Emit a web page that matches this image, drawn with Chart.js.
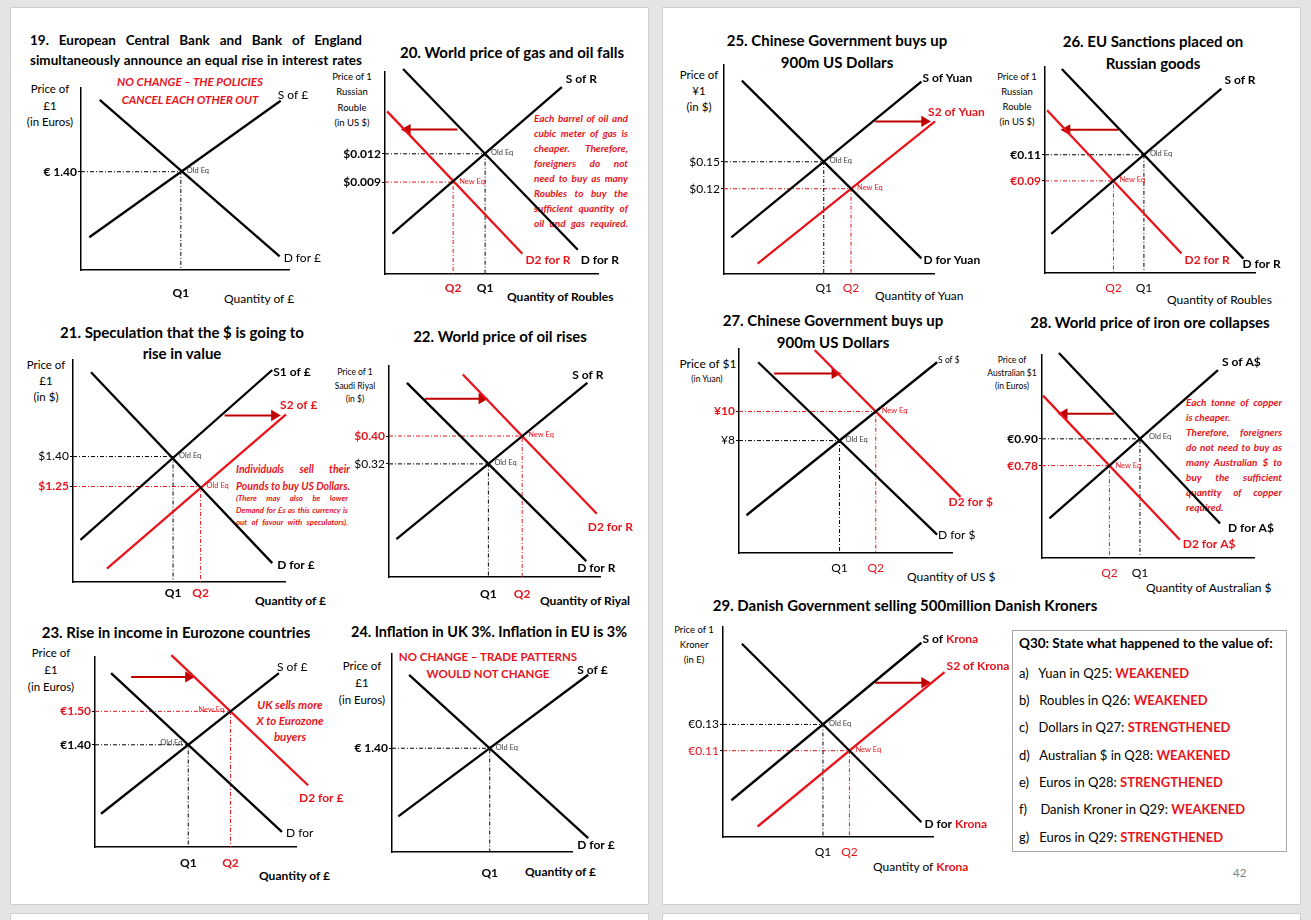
<!DOCTYPE html>
<html>
<head>
<meta charset="utf-8">
<script src="https://cdn.jsdelivr.net/npm/chart.js@4.4.1/dist/chart.umd.min.js"></script>
<style>
body{margin:0;width:1311px;height:920px;background:#e4e4e4;position:relative;overflow:hidden;font-family:Lato,"Open Sans",sans-serif;color:#000}
.pg{position:absolute;background:#fff;border:1px solid #d0d0d0;box-sizing:border-box}
.t{position:absolute;white-space:nowrap}
.c{text-align:center}
.b{font-weight:bold}
.red{color:#e8141c}
.it{font-style:italic}
.j{text-align:justify;text-align-last:justify}
.ttl{font-weight:bold;font-size:15px;line-height:22px;text-align:center}
.ax{font-size:12px;line-height:14px}
canvas{position:absolute}
</style>
</head>
<body>
<div class="pg" style="left:10px;top:7px;width:639px;height:898px"></div>
<div class="pg" style="left:662px;top:7px;width:639px;height:898px"></div>
<div class="pg" style="left:10px;top:913px;width:639px;height:20px"></div>
<div class="pg" style="left:662px;top:913px;width:639px;height:20px"></div>

<!-- 19 -->
<div class="t b j" style="left:30px;top:30px;width:332px;font-size:13.5px;line-height:20px">19. European Central Bank and Bank of England<br>simultaneously announce an equal rise in interest rates</div>
<div class="t c" style="left:15px;top:81px;width:70px;font-size:11.5px;line-height:16.5px">Price of<br>£1<br>(in Euros)</div>
<div class="t c b it red" style="left:100px;top:73px;width:180px;font-size:11.5px;line-height:18px">NO CHANGE – THE POLICIES<br>CANCEL EACH OTHER OUT</div>
<div class="t ax" style="left:224px;top:292px">Quantity of £</div>

<!-- 20 -->
<div class="t ttl" style="left:392px;top:41px;width:240px">20. World price of gas and oil falls</div>
<div class="t c" style="left:320px;top:69px;width:64px;font-size:9.5px;line-height:15.3px">Price of 1<br>Russian<br>Rouble<br>(in US $)</div>
<div class="t b it red j" style="left:534px;top:111px;width:94px;font-size:10px;line-height:15px">Each barrel of oil and<br>cubic meter of gas is<br>cheaper.&nbsp; Therefore,<br>foreigners do not<br>need to buy as many<br>Roubles to buy the<br>sufficient quantity of<br>oil and gas required.</div>
<div class="t b ax" style="left:507px;top:290px">Quantity of Roubles</div>

<!-- 21 -->
<div class="t ttl" style="left:42px;top:322px;width:280px;line-height:21px">21. Speculation that the $ is going to<br>rise in value</div>
<div class="t c" style="left:11px;top:357px;width:70px;font-size:11.5px;line-height:16px">Price of<br>£1<br>(in $)</div>
<div class="t b it red j" style="left:236px;top:461px;width:114px;font-size:10.5px;line-height:17px">Individuals sell their<br>Pounds to buy US Dollars.</div>
<div class="t b it red j" style="left:236px;top:492px;width:112px;font-size:7.8px;line-height:12px">(There may also be lower<br>Demand for £s as this currency is<br>out of favour with speculators).</div>
<div class="t b ax" style="left:255px;top:594px">Quantity of £</div>

<!-- 22 -->
<div class="t ttl" style="left:400px;top:325px;width:200px">22. World price of oil rises</div>
<div class="t c" style="left:320px;top:366px;width:70px;font-size:8.5px;line-height:13.5px">Price of 1<br>Saudi Riyal<br>(in $)</div>
<div class="t b ax" style="left:540px;top:594px">Quantity of Riyal</div>

<!-- 23 -->
<div class="t ttl" style="left:26px;top:621px;width:300px">23. Rise in income in Eurozone countries</div>
<div class="t c" style="left:16px;top:644px;width:70px;font-size:11.5px;line-height:17px">Price of<br>£1<br>(in Euros)</div>
<div class="t c b it red" style="left:240px;top:697px;width:100px;font-size:11.5px;line-height:16px">UK sells more<br>X to Eurozone<br>buyers</div>
<div class="t b ax" style="left:259px;top:869px">Quantity of £</div>

<!-- 24 -->
<div class="t ttl" style="left:339px;top:621px;width:300px;font-size:14.4px">24. Inflation in UK 3%. Inflation in EU is 3%</div>
<div class="t c b red" style="left:393px;top:648px;width:190px;font-size:11.5px;line-height:17px">NO CHANGE – TRADE PATTERNS<br>WOULD NOT CHANGE</div>
<div class="t c" style="left:327px;top:657px;width:70px;font-size:11.5px;line-height:17px">Price of<br>£1<br>(in Euros)</div>
<div class="t b ax" style="left:525px;top:865px">Quantity of £</div>

<!-- 25 -->
<div class="t ttl" style="left:717px;top:29px;width:240px">25. Chinese Government buys up<br>900m US Dollars</div>
<div class="t c" style="left:669px;top:67px;width:60px;font-size:11.5px;line-height:16px">Price of<br>¥1<br>(in $)</div>
<div class="t ax" style="left:875px;top:289px">Quantity of Yuan</div>

<!-- 26 -->
<div class="t ttl" style="left:1043px;top:30px;width:220px">26. EU Sanctions placed on<br>Russian goods</div>
<div class="t c" style="left:987px;top:69px;width:60px;font-size:9.5px;line-height:15px">Price of 1<br>Russian<br>Rouble<br>(in US $)</div>
<div class="t ax" style="left:1167px;top:293px">Quantity of Roubles</div>

<!-- 27 -->
<div class="t ttl" style="left:713px;top:309px;width:240px">27. Chinese Government buys up<br>900m US Dollars</div>
<div class="t c" style="left:673px;top:357px;width:70px;font-size:12px;line-height:14px">Price of $1</div>
<div class="t c" style="left:672px;top:374px;width:70px;font-size:8.5px;line-height:10px">(in Yuan)</div>
<div class="t ax" style="left:907px;top:570px">Quantity of US $</div>

<!-- 28 -->
<div class="t ttl" style="left:1010px;top:311px;width:280px">28. World price of iron ore collapses</div>
<div class="t c" style="left:972px;top:354px;width:80px;font-size:8.5px;line-height:13px">Price of<br>Australian $1<br>(in Euros)</div>
<div class="t b it red" style="left:1186px;top:395px;width:96px;font-size:10px;line-height:15px">
<div class="j">Each tonne of copper</div><div>is cheaper.</div><div class="j">Therefore, foreigners</div><div class="j">do not need to buy as</div><div class="j">many Australian $ to</div><div class="j">buy the sufficient</div><div class="j">quantity of copper</div><div>required.</div></div>
<div class="t ax" style="left:1146px;top:581px">Quantity of Australian $</div>

<!-- 29 -->
<div class="t ttl" style="left:700px;top:594px;width:410px">29. Danish Government selling 500million Danish Kroners</div>
<div class="t c" style="left:664px;top:622px;width:60px;font-size:9.5px;line-height:15px">Price of 1<br>Kroner<br>(in E)</div>
<div class="t ax" style="left:873px;top:860px">Quantity of <span class="b red">Krona</span></div>

<!-- Q30 -->
<div style="position:absolute;left:1012px;top:630px;width:275px;height:222px;border:1px solid #a6a6a6;box-sizing:border-box"></div>
<div class="t b" style="left:1019px;top:635px;font-size:13.5px;line-height:16px">Q30: State what happened to the value of:</div>
<div class="t" style="left:1019px;top:665px;font-size:13px;line-height:16px">a)&nbsp;&nbsp; Yuan in Q25: <span class="b red">WEAKENED</span></div>
<div class="t" style="left:1019px;top:692px;font-size:13px;line-height:16px">b)&nbsp;&nbsp; Roubles in Q26: <span class="b red">WEAKENED</span></div>
<div class="t" style="left:1019px;top:719px;font-size:13px;line-height:16px">c)&nbsp;&nbsp; Dollars in Q27: <span class="b red">STRENGTHENED</span></div>
<div class="t" style="left:1019px;top:747px;font-size:13px;line-height:16px">d)&nbsp;&nbsp; Australian $ in Q28: <span class="b red">WEAKENED</span></div>
<div class="t" style="left:1019px;top:774px;font-size:13px;line-height:16px">e)&nbsp;&nbsp; Euros in Q28: <span class="b red">STRENGTHENED</span></div>
<div class="t" style="left:1019px;top:801px;font-size:13px;line-height:16px">f)&nbsp;&nbsp;&nbsp; Danish Kroner in Q29: <span class="b red">WEAKENED</span></div>
<div class="t" style="left:1019px;top:829px;font-size:13px;line-height:16px">g)&nbsp;&nbsp; Euros in Q29: <span class="b red">STRENGTHENED</span></div>
<div class="t" style="left:1233px;top:866px;font-size:11.5px;line-height:14px;color:#7f7f7f">42</div>

<script>
// curves are [start, end] in plot units (0-10 on both axes), eq points are [quantity, price]
const q19Supply = [[0.4, 1.8], [9.6, 9.3]];
const q19Demand = [[0.9, 9.35], [9.55, 0.75]];
const q19Eq = [[4.8, 5.4]];
const q19Prices = ['€ 1.40'];
const q19Qty = ['Q1'];

const q20Supply = [[0.35, 2.0], [8.3, 9.25]];
const q20Demand = [[0.85, 10.15], [9.05, 1.2]];
const q20Demand2 = [[0.1, 8.05], [6.45, 1.0]];
const q20Eq = [[4.7, 5.95], [3.2, 4.55]];
const q20Prices = ['$0.012', '$0.009'];
const q20Qty = ['Q1', 'Q2'];
const q20Shift = [3.4, 1.05, 7.15];

const q21Supply = [[0.35, 1.9], [9.4, 9.55]];
const q21Demand = [[0.85, 9.45], [9.4, 0.85]];
const q21Supply2 = [[1.6, 0.6], [10.05, 7.55]];
const q21Eq = [[4.72, 5.65], [6.02, 4.3]];
const q21Prices = ['$1.40', '$1.25'];
const q21Qty = ['Q1', 'Q2'];
const q21Shift = [7.15, 9.5, 7.5];

const q22Supply = [[0.35, 1.8], [9.4, 9.2]];
const q22Demand = [[0.85, 9.2], [9.35, 0.75]];
const q22Demand2 = [[3.5, 9.6], [9.85, 3.0]];
const q22Eq = [[4.71, 5.36], [6.31, 6.68]];
const q22Prices = ['$0.32', '$0.40'];
const q22Qty = ['Q1', 'Q2'];
const q22Shift = [1.7, 4.4, 8.45];

const q23Supply = [[0.3, 1.75], [9.15, 9.15]];
const q23Demand = [[0.8, 9.15], [9.3, 0.8]];
const q23Demand2 = [[3.8, 10.1], [10.6, 3.25]];
const q23Eq = [[4.64, 5.38], [6.74, 7.14]];
const q23Prices = ['€1.40', '€1.50'];
const q23Qty = ['Q1', 'Q2'];
const q23Shift = [1.8, 4.65, 8.95];

const q24Supply = [[0.35, 1.8], [10.9, 8.95]];
const q24Demand = [[0.95, 8.95], [10.9, 0.7]];
const q24Eq = [[5.43, 5.24]];
const q24Prices = ['€ 1.40'];
const q24Qty = ['Q1'];

const q25Supply = [[0.35, 1.75], [9.4, 9.2]];
const q25Demand = [[0.85, 9.25], [9.4, 0.75]];
const q25Supply2 = [[1.6, 0.5], [10.05, 7.3]];
const q25Eq = [[4.75, 5.37], [6.05, 4.08]];
const q25Prices = ['$0.15', '$0.12'];
const q25Qty = ['Q1', 'Q2'];
const q25Shift = [7.2, 9.55, 7.3];

const q26Supply = [[0.3, 1.9], [8.4, 8.95]];
const q26Demand = [[0.8, 9.9], [9.45, 0.7]];
const q26Demand2 = [[0.1, 7.9], [6.5, 0.95]];
const q26Eq = [[4.71, 5.74], [3.26, 4.47]];
const q26Prices = ['€0.11', '€0.09'];
const q26Qty = ['Q1', 'Q2'];
const q26Shift = [3.5, 1.05, 6.95];

const q27Supply = [[0.35, 1.85], [9.3, 9.35]];
const q27Demand = [[0.9, 9.35], [9.3, 0.9]];
const q27Demand2 = [[3.55, 9.95], [10.4, 2.75]];
const q27Eq = [[4.72, 5.51], [6.42, 6.94]];
const q27Prices = ['¥8', '¥10'];
const q27Qty = ['Q1', 'Q2'];
const q27Shift = [1.65, 4.5, 8.8];

const q28Supply = [[0.35, 1.95], [8.3, 9.25]];
const q28Demand = [[0.8, 10.1], [8.4, 1.7]];
const q28Demand2 = [[0.05, 8.0], [6.5, 0.9]];
const q28Eq = [[4.62, 5.87], [3.18, 4.55]];
const q28Prices = ['€0.90', '€0.78'];
const q28Qty = ['Q1', 'Q2'];
const q28Shift = [3.4, 1.05, 7.1];

const q29Supply = [[0.4, 1.75], [9.45, 9.25]];
const q29Demand = [[0.9, 9.2], [9.45, 0.7]];
const q29Supply2 = [[1.65, 0.5], [10.55, 7.85]];
const q29Eq = [[4.76, 5.36], [6.02, 4.11]];
const q29Prices = ['€0.13', '€0.11'];
const q29Qty = ['Q1', 'Q2'];
const q29Shift = [7.25, 9.6, 7.35];

const FONT = 'Lato, "Open Sans", sans-serif';
const K = '#000000', R = '#e8141c', AR = '#c00000';
const col = c => c === 'r' ? R : (c === 'g' ? '#404040' : K);

// box = [axis x, axis top, axis right, axis y] in page pixels
const diagrams = [
  { box: [81, 88, 289, 270], xPad: 16, qBold: true, eq: q19Eq, prices: q19Prices, pStyle: ['kb'], qty: q19Qty, names: ['Old Eq'],
    lines: [[q19Supply, 'k', 'S of £', -3, -6, 'n'], [q19Demand, 'k', 'D for £', 4, 2, 'n']] },
  { box: [385, 72, 598, 274], xPad: 7, qBold: true, eq: q20Eq, prices: q20Prices, pStyle: ['kb', 'kb'], qty: q20Qty, names: ['Old Eq', 'New Eq'], shift: q20Shift,
    lines: [[q20Supply, 'k', 'S of R', 4, -8, 'b'], [q20Demand, 'k', 'D for R', 3, 10, 'b'], [q20Demand2, 'r', 'D2 for R', 3, 6, 'b']] },
  { box: [73, 360, 285, 582], xPad: 4, qBold: true, eq: q21Eq, prices: q21Prices, pStyle: ['kn', 'rb'], qty: q21Qty, names: ['Old Eq', 'Old Eq'], shift: q21Shift,
    lines: [[q21Supply, 'k', 'S1 of £', 1, 2, 'b'], [q21Demand, 'k', 'D for £', 5, 2, 'b'], [q21Supply2, 'r', 'S2 of £', -6, -9, 'b']] },
  { box: [389, 366, 600, 577], xPad: 10, qBold: true, eq: q22Eq, prices: q22Prices, pStyle: ['kn', 'rb'], qty: q22Qty, names: ['Old Eq', 'New Eq'], shift: q22Shift,
    lines: [[q22Supply, 'k', 'S of R', -15, -8, 'b'], [q22Demand, 'k', 'D for R', -9, 7, 'b'], [q22Demand2, 'r', 'D2 for R', -9, 13, 'b']] },
  { box: [95, 657, 296, 847], xPad: 9, qBold: true, eq: q23Eq, prices: q23Prices, pStyle: ['kb', 'rb'], qty: q23Qty, names: ['Old Eq', 'New Eq'], shift: q23Shift,
    eqOff: [[-28, -2], [-32, -2]],
    lines: [[q23Supply, 'k', 'S of £', -2, -6, 'n'], [q23Demand, 'k', 'D for', 4, 1, 'n'], [q23Demand2, 'r', 'D2 for £', -9, 13, 'b']] },
  { box: [392, 654, 572, 852], xPad: 14, qBold: true, eq: q24Eq, prices: q24Prices, pStyle: ['kb'], qty: q24Qty, names: ['Old Eq'],
    lines: [[q24Supply, 'k', 'S of £', -11, -5, 'b'], [q24Demand, 'k', 'D for £', -11, 7, 'b']] },
  { box: [724, 65, 934, 274], xPad: 7, qBold: false, eq: q25Eq, prices: q25Prices, pStyle: ['kn', 'kn'], qty: q25Qty, names: ['Old Eq', 'New Eq'], shift: q25Shift,
    lines: [[q25Supply, 'k', 'S of Yuan', 1, -4, 'b'], [q25Demand, 'k', 'D for Yuan', 2, 2, 'b'], [q25Supply2, 'r', 'S2 of Yuan', -7, -9, 'b']] },
  { box: [1045, 67, 1255, 273], xPad: 8, qBold: false, eq: q26Eq, prices: q26Prices, pStyle: ['kb', 'rb'], qty: q26Qty, names: ['Old Eq', 'New Eq'], shift: q26Shift,
    lines: [[q26Supply, 'k', 'S of R', 3, -9, 'b'], [q26Demand, 'k', 'D for R', -1, 6, 'b'], [q26Demand2, 'r', 'D2 for R', 3, 7, 'b']] },
  { box: [739, 349, 952, 553], xPad: 8, qBold: false, eq: q27Eq, prices: q27Prices, pStyle: ['kn', 'rb'], qty: q27Qty, names: ['Old Eq', 'New Eq'], shift: q27Shift,
    lines: [[q27Supply, 'k', 'S of $', 1, -2, 'n', 8.5], [q27Demand, 'k', 'D for $', 1, 0, 'n'], [q27Demand2, 'r', 'D2 for $', -12, 5, 'b']] },
  { box: [1042, 355, 1254, 558], xPad: 8, qBold: false, eq: q28Eq, prices: q28Prices, pStyle: ['kb', 'rb'], qty: q28Qty, names: ['Old Eq', 'New Eq'], shift: q28Shift,
    eqOff: [[9, -2], [6, 0]],
    lines: [[q28Supply, 'k', 'S of A$', 4, -8, 'b'], [q28Demand, 'k', 'D for A$', 8, 5, 'b'], [q28Demand2, 'r', 'D2 for A$', 3, 4, 'b']] },
  { box: [723, 627, 933, 837], xPad: 8, qBold: false, eq: q29Eq, prices: q29Prices, pStyle: ['kn', 'rn'], qty: q29Qty, names: ['Old Eq', 'New Eq'], shift: q29Shift,
    lines: [[q29Supply, 'k', [['S of ', 'k'], ['Krona', 'r']], 1, -4, 'b'], [q29Demand, 'k', [['D for ', 'k'], ['Krona', 'r']], 3, 2, 'b'],
            [q29Supply2, 'r', 'S2 of Krona', 2, -6, 'b']] }
];

function put(ctx, x, y, parts, font) {
  ctx.font = font;
  ctx.textBaseline = 'middle';
  ctx.textAlign = 'left';
  parts.forEach(([t, c]) => {
    ctx.fillStyle = col(c);
    ctx.fillText(t, x, y);
    x += ctx.measureText(t).width;
  });
}

function notes(chart, s) {
  const xs = chart.scales.x, ys = chart.scales.y, ctx = chart.ctx;
  ctx.save();
  s.lines.forEach(l => {
    const end = l[0][1];
    const parts = Array.isArray(l[2]) ? l[2] : [[l[2], l[1]]];
    const font = (l[5] === 'b' ? 'bold ' : '') + (l[6] || 12) + 'px ' + FONT;
    put(ctx, xs.getPixelForValue(end[0]) + l[3], ys.getPixelForValue(end[1]) + l[4], parts, font);
  });
  s.eq.forEach((e, i) => {
    const off = s.eqOff ? s.eqOff[i] : [6, -1];
    put(ctx, xs.getPixelForValue(e[0]) + off[0], ys.getPixelForValue(e[1]) + off[1], [[s.names[i], i ? 'r' : 'g']], '7.5px ' + FONT);
  });
  ctx.restore();
}

function build(s) {
  const [ox, yt, xr, oy] = s.box;
  const padL = 62, padT = 24, padR = 95, padB = 34;
  const cv = document.createElement('canvas');
  cv.width = padL + (xr - ox) + padR;
  cv.height = padT + (oy - yt) + padB;
  cv.style.left = (ox - padL) + 'px';
  cv.style.top = (yt - padT) + 'px';
  document.body.appendChild(cv);

  const ds = [];
  s.lines.forEach(l => ds.push({
    data: l[0].map(p => ({ x: p[0], y: p[1] })),
    borderColor: col(l[1]), borderWidth: 2.3, pointRadius: 0, showLine: true, clip: false
  }));
  s.eq.forEach((e, i) => ds.push({
    data: [{ x: 0, y: e[1] }, { x: e[0], y: e[1] }, { x: e[0], y: 0 }],
    borderColor: i ? R : K, borderWidth: 1, borderDash: [4, 2, 1, 2], pointRadius: 0, showLine: true, clip: false
  }));
  if (s.shift) {
    const [a, b, y] = s.shift;
    ds.push({
      data: [{ x: a, y: y }, { x: b, y: y }],
      borderColor: AR, borderWidth: 2, showLine: true, clip: false,
      pointRadius: [0, 4.5], pointStyle: 'triangle', rotation: b > a ? 90 : -90,
      pointBackgroundColor: AR, pointBorderColor: AR
    });
  }

  const pst = c => s.pStyle[c.index] || 'kn';

  new Chart(cv, {
    type: 'scatter',
    data: { datasets: ds },
    options: {
      responsive: false,
      animation: false,
      events: [],
      layout: { padding: { top: padT, right: padR, left: 0, bottom: 0 } },
      plugins: { legend: { display: false }, tooltip: { enabled: false } },
      scales: {
        x: {
          type: 'linear', min: 0, max: 10,
          grid: { display: true, drawOnChartArea: false, drawTicks: false },
          border: { display: true, color: K, width: 1.5 },
          afterBuildTicks: a => { a.ticks = s.eq.map(e => ({ value: e[0] })); },
          afterFit: a => { a.height = padB; },
          ticks: {
            autoSkip: false, maxRotation: 0, padding: s.xPad,
            callback: (v, i) => s.qty[i],
            color: c => c.index ? R : K,
            font: { family: FONT, size: 12, weight: s.qBold ? 'bold' : 'normal' }
          }
        },
        y: {
          type: 'linear', min: 0, max: 10,
          grid: { display: true, drawOnChartArea: false, drawTicks: true, tickLength: 3, color: K },
          border: { display: true, color: K, width: 1.5 },
          afterBuildTicks: a => { a.ticks = s.eq.map(e => ({ value: e[1] })); },
          afterFit: a => { a.width = padL; },
          ticks: {
            autoSkip: false, padding: 1,
            callback: (v, i) => s.prices[i],
            color: c => col(pst(c)[0]),
            font: c => ({ family: FONT, size: 12, weight: pst(c)[1] === 'b' ? 'bold' : 'normal' })
          }
        }
      }
    },
    plugins: [{ id: 'notes', afterDatasetsDraw: c => notes(c, s) }]
  });
}

diagrams.forEach(build);
</script>
</body>
</html>
